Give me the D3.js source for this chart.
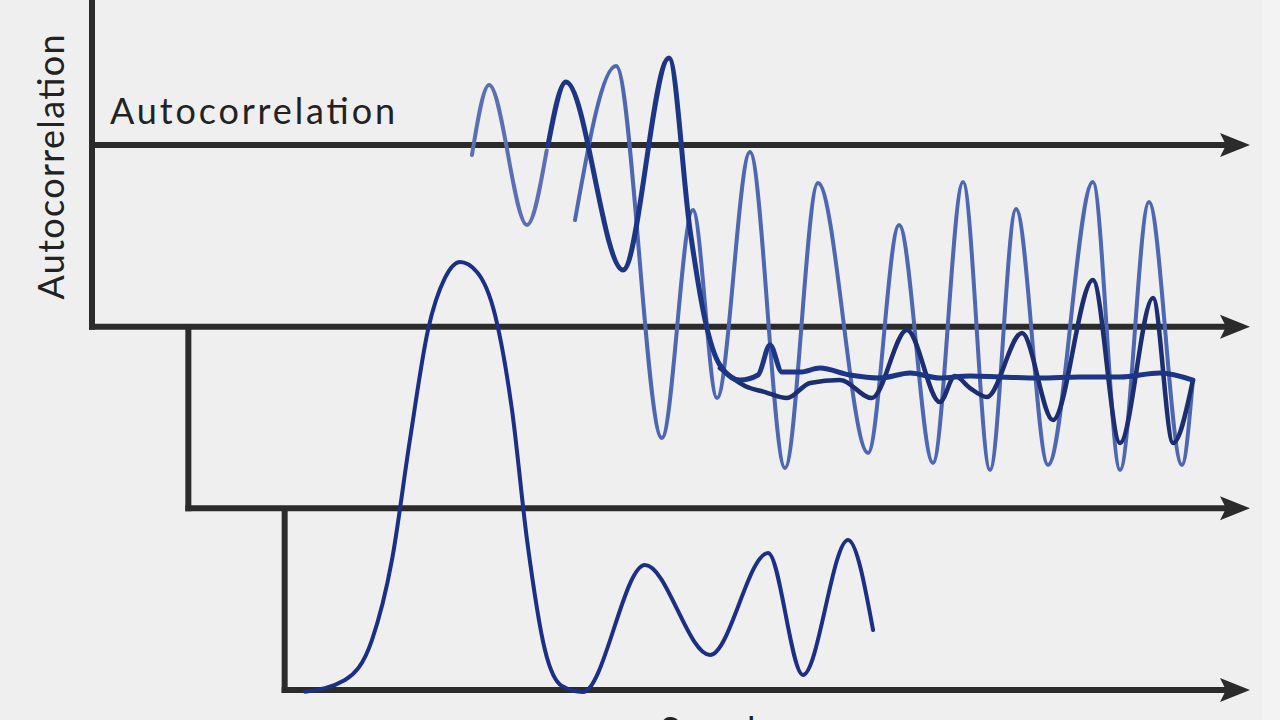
<!DOCTYPE html>
<html>
<head>
<meta charset="utf-8">
<script src="https://cdn.jsdelivr.net/npm/d3@7"></script>
<style>
  body { margin: 0; background: #efefef; overflow: hidden; }
  .label { font-family: Lato, "Open Sans", sans-serif; font-weight: 400; fill: #222; }
</style>
</head>
<body>
<div id="chart"></div>
<script>
// stacked autocorrelation panels
const axisLevels = [3, 2, 1, 0];       // baseline of each horizontal axis
const axisStartLags = [0, 0, 5, 10];   // where each horizontal axis begins
const stepLags = [0, 5, 10];           // vertical axis of each step
const stepTops = [3.8, 2, 1];
const stepBottoms = [2, 1, 0];
const lagMax = 60;

// short light curve top left
const lightLag = [19.72, 20.61, 22.58, 23.6];
const lightAcf = [2.945, 3.33, 2.56, 2.97];

// long oscillating series
const waveLag = [25.07, 27.2, 29.58, 31.19, 32.44, 34.15, 35.97, 37.68, 40.28, 41.89,
  43.65, 45.21, 46.61, 47.96, 49.62, 51.95, 53.36, 54.86, 56.57, 57.14];
const waveAcf = [2.587, 3.435, 1.387, 2.642, 1.607, 2.961, 1.222, 2.791, 1.305, 2.56,
  1.25, 2.796, 1.211, 2.648, 1.239, 2.796, 1.211, 2.686, 1.239, 1.706];

// dark series that decays to a flat level
const decayLag = [23.67, 24.6, 27.56, 29.95, 31.04, 31.82, 32.59, 33.63, 34.57, 35.19,
  35.81, 36.75, 37.78, 39.34, 40.9, 42.46, 44.01, 45.57, 47.13, 49.2, 51.28, 53.36, 55.43, 57.14];
const decayAcf = [3.0, 3.347, 2.312, 3.479, 2.532, 2.037, 1.789, 1.706, 1.734, 1.899,
  1.75, 1.75, 1.772, 1.734, 1.717, 1.745, 1.717, 1.728, 1.723, 1.717, 1.723, 1.723, 1.745, 1.706];

// dark series with growing spikes
const spikeLag = [32.59, 33.89, 34.93, 36.07, 37.27, 38.82, 40.48, 42.3, 44.01, 44.79,
  45.57, 46.45, 48.27, 49.88, 51.95, 53.36, 55.07, 56.11, 57.14];
const spikeAcf = [1.772, 1.673, 1.64, 1.607, 1.69, 1.706, 1.607, 1.982, 1.585, 1.728,
  1.662, 1.613, 1.965, 1.486, 2.257, 1.36, 2.158, 1.36, 1.706];

// bottom curve: big bump then ripples
const bumpLag = [11.06, 13.13, 14.53, 15.57, 16.5, 17.44, 18.32, 19.1, 19.98, 20.92,
  21.8, 22.58, 23.51, 24.39, 25.48, 28.7, 32.08, 35.09, 36.9, 39.24, 40.54];
const bumpAcf = [-0.01, 0.055, 0.275, 0.716, 1.376, 1.982, 2.268, 2.356, 2.301, 2.064,
  1.541, 0.826, 0.22, 0.022, -0.011, 0.688, 0.193, 0.754, 0.083, 0.826, 0.33];

const width = 1280, height = 720;

const svg = d3
  .select("#chart")
  .append("svg")
  .attr("width", width)
  .attr("height", height);

svg.append("rect").attr("width", width).attr("height", height).attr("fill", "#efefef");
svg.append("rect").attr("x", 1262).attr("width", 18).attr("height", height).attr("fill", "#f3f3f3");

const x = d3.scaleLinear().domain([0, lagMax]).range([92, 1248]);
const y = d3.scaleLinear().domain([0, 3]).range([690, 145]);

const axisColor = "#2b2b2b";

// horizontal axes with arrow heads
axisLevels.forEach((lvl, i) => {
  const yy = y(lvl);
  svg
    .append("line")
    .attr("x1", x(axisStartLags[i]) - 3)
    .attr("x2", x(lagMax) - 20)
    .attr("y1", yy)
    .attr("y2", yy)
    .attr("stroke", axisColor)
    .attr("stroke-width", 6);
  const tip = x(lagMax) + 2;
  svg
    .append("path")
    .attr("d", `M${tip},${yy} L${tip - 30},${yy - 12} L${tip - 24},${yy} L${tip - 30},${yy + 12} Z`)
    .attr("fill", axisColor);
});

// vertical steps
stepLags.forEach((lag, i) => {
  svg
    .append("line")
    .attr("x1", x(lag))
    .attr("x2", x(lag))
    .attr("y1", y(stepTops[i]))
    .attr("y2", y(stepBottoms[i]) + 3)
    .attr("stroke", axisColor)
    .attr("stroke-width", 6);
});

const line = d3
  .line()
  .x((d) => x(d[0]))
  .y((d) => y(d[1]))
  .curve(d3.curveMonotoneX);

function drawSeries(lags, vals, color, w) {
  svg
    .append("path")
    .datum(d3.zip(lags, vals))
    .attr("d", line)
    .attr("fill", "none")
    .attr("stroke", color)
    .attr("stroke-width", w)
    .attr("stroke-linecap", "round")
    .attr("stroke-linejoin", "round");
}

drawSeries(lightLag, lightAcf, "#5c6fb3", 4);
drawSeries(waveLag, waveAcf, "#4d67b0", 4);
drawSeries(spikeLag, spikeAcf, "#1c2d70", 4.5);
drawSeries(decayLag, decayAcf, "#1d3585", 5);
drawSeries(bumpLag, bumpAcf, "#1b2f85", 4);

// labels
svg
  .append("text")
  .attr("class", "label")
  .attr("x", 110)
  .attr("y", 124)
  .attr("font-size", 36)
  .attr("textLength", 285)
  .text("Autocorrelation");

svg
  .append("text")
  .attr("class", "label")
  .attr("transform", "translate(64,167) rotate(-90)")
  .attr("text-anchor", "middle")
  .attr("font-size", 36)
  .attr("textLength", 265)
  .text("Autocorrelation");

svg
  .append("text")
  .attr("class", "label")
  .attr("x", 725)
  .attr("y", 743)
  .attr("text-anchor", "middle")
  .attr("font-size", 36)
  .text("Samples");
</script>
</body>
</html>
